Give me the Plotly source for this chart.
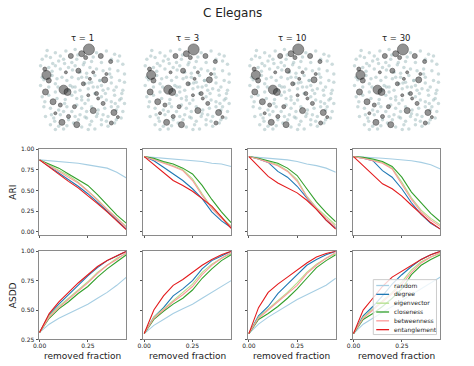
import plotly.graph_objects as go

W, H = 474, 366

# ---------------- data ----------------
X = [0.0, 0.05, 0.10, 0.15, 0.20, 0.25, 0.30, 0.35, 0.40, 0.45]
tau_labels = ["τ = 1", "τ = 3", "τ = 10", "τ = 30"]
series_names = ["random", "degree", "eigenvector", "closeness", "betweenness", "entanglement"]
series_colors = ["#a6cee3", "#1f78b4", "#b2df8a", "#33a02c", "#fb9a99", "#e31a1c"]
ari_ticks = [0.0, 0.25, 0.5, 0.75, 1.0]
ari_ticktext = ["0.00", "0.25", "0.50", "0.75", "1.00"]
asdd_ticks = [0.25, 0.5, 0.75, 1.0]
asdd_ticktext = ["0.25", "0.50", "0.75", "1.00"]
x_ticks = [0.0, 0.25]
x_ticktext = ["0.00", "0.25"]

ari_tau1 = {
    "random":       [0.87, 0.86, 0.85, 0.84, 0.83, 0.81, 0.79, 0.77, 0.72, 0.65],
    "degree":       [0.87, 0.79, 0.72, 0.64, 0.55, 0.46, 0.36, 0.25, 0.14, 0.03],
    "eigenvector":  [0.87, 0.81, 0.75, 0.68, 0.60, 0.50, 0.39, 0.27, 0.16, 0.06],
    "closeness":    [0.87, 0.82, 0.77, 0.70, 0.63, 0.56, 0.45, 0.32, 0.20, 0.10],
    "betweenness":  [0.87, 0.80, 0.74, 0.67, 0.59, 0.49, 0.38, 0.26, 0.15, 0.05],
    "entanglement": [0.87, 0.78, 0.70, 0.61, 0.53, 0.44, 0.34, 0.24, 0.13, 0.02],
}
ari_tau3 = {
    "random":       [0.91, 0.90, 0.89, 0.88, 0.87, 0.86, 0.85, 0.83, 0.82, 0.79],
    "degree":       [0.91, 0.86, 0.78, 0.70, 0.62, 0.52, 0.40, 0.24, 0.13, 0.05],
    "eigenvector":  [0.91, 0.88, 0.84, 0.80, 0.75, 0.64, 0.46, 0.29, 0.17, 0.07],
    "closeness":    [0.91, 0.89, 0.85, 0.82, 0.77, 0.70, 0.56, 0.39, 0.24, 0.11],
    "betweenness":  [0.91, 0.87, 0.83, 0.79, 0.74, 0.62, 0.44, 0.28, 0.16, 0.06],
    "entanglement": [0.91, 0.81, 0.71, 0.62, 0.56, 0.49, 0.40, 0.31, 0.18, 0.04],
}
ari_tau10 = {
    "random":       [0.91, 0.90, 0.89, 0.88, 0.87, 0.85, 0.82, 0.80, 0.77, 0.72],
    "degree":       [0.91, 0.88, 0.84, 0.73, 0.66, 0.55, 0.41, 0.27, 0.14, 0.04],
    "eigenvector":  [0.91, 0.88, 0.85, 0.81, 0.74, 0.63, 0.43, 0.29, 0.18, 0.08],
    "closeness":    [0.91, 0.89, 0.86, 0.83, 0.77, 0.68, 0.52, 0.36, 0.23, 0.12],
    "betweenness":  [0.91, 0.88, 0.84, 0.80, 0.73, 0.61, 0.42, 0.28, 0.16, 0.06],
    "entanglement": [0.91, 0.79, 0.67, 0.59, 0.53, 0.47, 0.38, 0.27, 0.14, 0.03],
}
ari_tau30 = {
    "random":       [0.91, 0.905, 0.90, 0.89, 0.88, 0.87, 0.86, 0.84, 0.81, 0.76],
    "degree":       [0.91, 0.89, 0.86, 0.74, 0.66, 0.52, 0.35, 0.21, 0.10, 0.03],
    "eigenvector":  [0.91, 0.89, 0.87, 0.84, 0.77, 0.60, 0.41, 0.26, 0.16, 0.08],
    "closeness":    [0.91, 0.90, 0.88, 0.85, 0.79, 0.66, 0.48, 0.35, 0.22, 0.12],
    "betweenness":  [0.91, 0.89, 0.86, 0.83, 0.76, 0.58, 0.39, 0.24, 0.14, 0.06],
    "entanglement": [0.91, 0.80, 0.68, 0.58, 0.52, 0.43, 0.32, 0.21, 0.11, 0.03],
}
asdd_tau1 = {
    "random":       [0.31, 0.38, 0.43, 0.47, 0.51, 0.55, 0.60, 0.65, 0.71, 0.78],
    "degree":       [0.31, 0.46, 0.55, 0.63, 0.71, 0.79, 0.86, 0.92, 0.96, 1.00],
    "eigenvector":  [0.31, 0.45, 0.53, 0.60, 0.67, 0.74, 0.82, 0.88, 0.94, 0.98],
    "closeness":    [0.31, 0.43, 0.51, 0.57, 0.64, 0.70, 0.78, 0.85, 0.91, 0.97],
    "betweenness":  [0.31, 0.44, 0.52, 0.59, 0.66, 0.73, 0.81, 0.88, 0.93, 0.99],
    "entanglement": [0.31, 0.47, 0.57, 0.65, 0.73, 0.80, 0.87, 0.92, 0.96, 1.00],
}
asdd_tau3 = {
    "random":       [0.30, 0.37, 0.42, 0.47, 0.51, 0.55, 0.60, 0.65, 0.70, 0.75],
    "degree":       [0.30, 0.44, 0.52, 0.62, 0.68, 0.75, 0.85, 0.92, 0.96, 1.00],
    "eigenvector":  [0.30, 0.44, 0.51, 0.58, 0.65, 0.72, 0.82, 0.89, 0.94, 0.98],
    "closeness":    [0.30, 0.42, 0.49, 0.55, 0.60, 0.67, 0.77, 0.85, 0.92, 0.97],
    "betweenness":  [0.30, 0.43, 0.50, 0.57, 0.63, 0.70, 0.80, 0.88, 0.94, 0.99],
    "entanglement": [0.30, 0.50, 0.62, 0.71, 0.76, 0.82, 0.88, 0.93, 0.97, 1.00],
}
asdd_tau10 = {
    "random":       [0.30, 0.38, 0.44, 0.49, 0.54, 0.59, 0.63, 0.67, 0.71, 0.77],
    "degree":       [0.30, 0.45, 0.53, 0.64, 0.72, 0.80, 0.88, 0.93, 0.97, 1.00],
    "eigenvector":  [0.30, 0.44, 0.51, 0.58, 0.65, 0.73, 0.82, 0.89, 0.94, 0.98],
    "closeness":    [0.30, 0.42, 0.47, 0.53, 0.60, 0.68, 0.77, 0.86, 0.92, 0.97],
    "betweenness":  [0.30, 0.43, 0.50, 0.57, 0.64, 0.71, 0.81, 0.88, 0.94, 0.99],
    "entanglement": [0.30, 0.52, 0.65, 0.72, 0.78, 0.84, 0.90, 0.95, 0.98, 1.00],
}
asdd_tau30 = {
    "random":       [0.30, 0.38, 0.43, 0.48, 0.53, 0.58, 0.63, 0.68, 0.73, 0.78],
    "degree":       [0.30, 0.45, 0.53, 0.62, 0.72, 0.80, 0.87, 0.93, 0.97, 1.00],
    "eigenvector":  [0.30, 0.44, 0.51, 0.58, 0.65, 0.74, 0.84, 0.91, 0.95, 0.98],
    "closeness":    [0.30, 0.42, 0.47, 0.53, 0.60, 0.68, 0.80, 0.88, 0.93, 0.97],
    "betweenness":  [0.30, 0.43, 0.50, 0.57, 0.64, 0.72, 0.82, 0.90, 0.95, 0.99],
    "entanglement": [0.30, 0.50, 0.60, 0.70, 0.78, 0.83, 0.88, 0.93, 0.97, 1.00],
}
ari_panels = [ari_tau1, ari_tau3, ari_tau10, ari_tau30]
asdd_panels = [asdd_tau1, asdd_tau3, asdd_tau10, asdd_tau30]

# network node layout (units of the node box 0..285)
light_x = [35, 60, 92, 120, 128, 185, 215, 240, 255, 75, 175,
           20, 45, 70, 85, 110, 125, 170, 200, 230, 250, 265, 148,
           15, 40, 60, 75, 100, 120, 145, 165, 185, 205, 225, 250, 270, 50, 135, 155,
           20, 50, 65, 80, 110, 130, 155, 180, 195, 230, 255, 270, 95, 170,
           15, 40, 60, 105, 120, 135, 160, 175, 200, 220, 245, 265, 150, 230,
           20, 40, 65, 110, 125, 140, 160, 200, 215, 240, 260, 270, 90, 180, 230,
           25, 45, 70, 95, 110, 140, 155, 170, 190, 210, 250, 265, 230, 125,
           30, 55, 75, 100, 120, 135, 155, 185, 200, 220, 245, 260, 170,
           45, 70, 95, 140, 165, 200, 220, 240, 115, 60, 180,
           32, 52, 88, 112, 140, 162, 188, 212, 238, 255, 28, 48, 85, 130, 160,
           100, 68, 205, 245, 262, 120, 150, 195, 225, 58, 88, 140, 215,
           25, 85, 150, 205, 60, 112, 188, 242]
light_y = [28, 35, 30, 25, 42, 35, 30, 40, 45, 45, 48,
           55, 50, 60, 55, 65, 55, 62, 65, 55, 60, 70, 65,
           75, 80, 75, 85, 80, 75, 72, 80, 85, 90, 85, 90, 100, 92, 95, 98,
           110, 105, 115, 110, 110, 115, 110, 105, 120, 110, 120, 125, 120, 125,
           135, 140, 130, 135, 140, 150, 145, 140, 135, 145, 140, 150, 130, 128,
           170, 165, 175, 165, 175, 170, 180, 170, 180, 165, 175, 190, 178, 160, 185,
           200, 205, 210, 200, 215, 205, 215, 200, 210, 205, 200, 215, 200, 195,
           230, 235, 225, 240, 230, 225, 235, 230, 240, 230, 240, 235, 245,
           255, 260, 258, 262, 255, 255, 260, 250, 250, 270, 268,
           45, 68, 68, 88, 110, 128, 140, 160, 150, 180, 185, 225, 215, 240, 270,
           150, 140, 225, 210, 160, 155, 190, 120, 100, 245, 190, 180, 245,
           118, 268, 232, 150, 155, 140, 222, 190]
light_s = [3.5] * 162 + [7, 6, 6, 5, 5, 5, 5, 5]

dark_x = [162, 140, 107, 152, 198, 228, 28, 33, 40, 92, 130, 210, 85, 97, 30, 145, 185,
          53, 75, 205, 190, 118, 175, 238, 230, 80, 125, 100, 175, 165, 215, 60, 160, 250]
dark_y = [25, 38, 45, 50, 45, 62, 85, 103, 120, 95, 90, 118, 148, 155, 155, 130, 160,
          185, 195, 190, 175, 200, 212, 218, 250, 248, 255, 230, 95, 115, 100, 220, 165, 232]
dark_s = [11, 6, 5, 4, 5, 4, 4, 9, 5, 3, 5, 6, 9, 7, 6, 4, 4,
          6, 4, 4, 3, 4, 6, 6, 4, 6, 6, 4, 3, 3, 3, 3, 3, 3]

# ---------------- layout helpers ----------------
def fx(p):
    return p / W

def fy(p):
    return 1 - p / H

panel_left = [33, 139, 245, 351]
panel_w = 89
ari_top, ari_bot = 148, 235
asdd_top, asdd_bot = 252, 342
net_top, net_size = 38, 95

fig = go.Figure()
layout = dict(
    width=W, height=H, margin=dict(l=0, r=0, t=0, b=0),
    paper_bgcolor="white", plot_bgcolor="white", showlegend=False,
    font=dict(family="DejaVu Sans", color="#222"),
)

axis_n = [0]

def new_axes(xdom, ydom, xcfg, ycfg):
    axis_n[0] += 1
    n = axis_n[0]
    sx = "" if n == 1 else str(n)
    layout["xaxis" + sx] = dict(domain=xdom, anchor="y" + sx, **xcfg)
    layout["yaxis" + sx] = dict(domain=ydom, anchor="x" + sx, **ycfg)
    return "x" + sx, "y" + sx

hidden = dict(visible=False, showgrid=False, zeroline=False)
frame = dict(showline=True, mirror=True, linecolor="#8a8a8a", linewidth=1,
             ticks="outside", ticklen=2, tickcolor="#555", tickwidth=1,
             showgrid=False, zeroline=False, tickfont=dict(size=6, color="#222"))

for k in range(4):
    # network panel
    x0 = panel_left[k] - 3
    xr, yr = new_axes([fx(x0), fx(x0 + net_size)], [fy(net_top + net_size), fy(net_top)],
                      dict(range=[0, 285], **hidden), dict(range=[285, 0], **hidden))
    fig.add_trace(go.Scatter(x=light_x, y=light_y, mode="markers", xaxis=xr, yaxis=yr,
                             marker=dict(size=light_s, color="rgba(150,182,184,0.7)", line=dict(width=0))))
    fig.add_trace(go.Scatter(x=dark_x, y=dark_y, mode="markers", xaxis=xr, yaxis=yr,
                             marker=dict(size=dark_s, color="rgba(50,50,50,0.75)",
                                         line=dict(width=0.8, color="rgba(25,25,25,0.85)"))))

    # ARI panel
    xdom = [fx(panel_left[k]), fx(panel_left[k] + panel_w)]
    xr, yr = new_axes(xdom, [fy(ari_bot), fy(ari_top)],
                      dict(range=[-0.005, 0.45], tickvals=x_ticks, ticktext=x_ticktext,
                           showticklabels=False, **frame),
                      dict(range=[-0.035, 1.0], tickvals=ari_ticks, ticktext=ari_ticktext,
                           showticklabels=(k == 0), **frame))
    for name, col in zip(series_names, series_colors):
        fig.add_trace(go.Scatter(x=X, y=ari_panels[k][name], mode="lines", xaxis=xr, yaxis=yr,
                                 line=dict(color=col, width=1.1), name=name))

    # ASDD panel
    xr, yr = new_axes(xdom, [fy(asdd_bot), fy(asdd_top)],
                      dict(range=[-0.005, 0.45], tickvals=x_ticks, ticktext=x_ticktext,
                           showticklabels=True, ticklabelstandoff=-2, **frame),
                      dict(range=[0.25, 1.0], tickvals=asdd_ticks, ticktext=asdd_ticktext,
                           showticklabels=(k == 0), **frame))
    for name, col in zip(series_names, series_colors):
        fig.add_trace(go.Scatter(x=X, y=asdd_panels[k][name], mode="lines", xaxis=xr, yaxis=yr,
                                 line=dict(color=col, width=1.1), name=name))

annotations = []
shapes = []
annotations.append(dict(text="C Elegans", x=fx(229), y=fy(9), xref="paper", yref="paper",
                        showarrow=False, font=dict(size=12, color="#222"), xanchor="center", yanchor="middle"))
for k in range(4):
    cx = fx(panel_left[k] + panel_w / 2)
    annotations.append(dict(text=tau_labels[k], x=cx, y=fy(35), xref="paper", yref="paper",
                            showarrow=False, font=dict(size=8.5, color="#222"),
                            xanchor="center", yanchor="middle"))
    annotations.append(dict(text="removed fraction", x=cx, y=fy(358.5), xref="paper", yref="paper",
                            showarrow=False, font=dict(size=9, color="#222"),
                            xanchor="center", yanchor="middle", borderpad=0))
annotations.append(dict(text="ARI", x=fx(7), y=fy((ari_top + ari_bot) / 2), xref="paper", yref="paper",
                        showarrow=False, textangle=-90, font=dict(size=9, color="#222"),
                        xanchor="center", yanchor="middle"))
annotations.append(dict(text="ASDD", x=fx(7), y=fy((asdd_top + asdd_bot) / 2), xref="paper", yref="paper",
                        showarrow=False, textangle=-90, font=dict(size=9, color="#222"),
                        xanchor="center", yanchor="middle"))

# manual compact legend (matplotlib style)
lg_x0, lg_x1, lg_y0, lg_y1 = 372, 436, 281, 337
shapes.append(dict(type="rect", xref="paper", yref="paper", x0=fx(lg_x0), x1=fx(lg_x1),
                   y0=fy(lg_y1), y1=fy(lg_y0), fillcolor="rgba(255,255,255,0.8)",
                   line=dict(color="#cccccc", width=1), layer="above"))
for i, (name, col) in enumerate(zip(series_names, series_colors)):
    yy = fy(287 + 9 * i)
    shapes.append(dict(type="line", xref="paper", yref="paper", x0=fx(375), x1=fx(388),
                       y0=yy, y1=yy, line=dict(color=col, width=1.3), layer="above"))
    annotations.append(dict(text=name, x=fx(391), y=yy, xref="paper", yref="paper",
                            showarrow=False, font=dict(size=6, color="#222"),
                            xanchor="left", yanchor="middle"))

layout["annotations"] = annotations
layout["shapes"] = shapes
fig.update_layout(**layout)
fig.write_html("out.html", config={"displayModeBar": False},
               post_script="document.body.style.margin='0';document.body.style.overflow='hidden';")
